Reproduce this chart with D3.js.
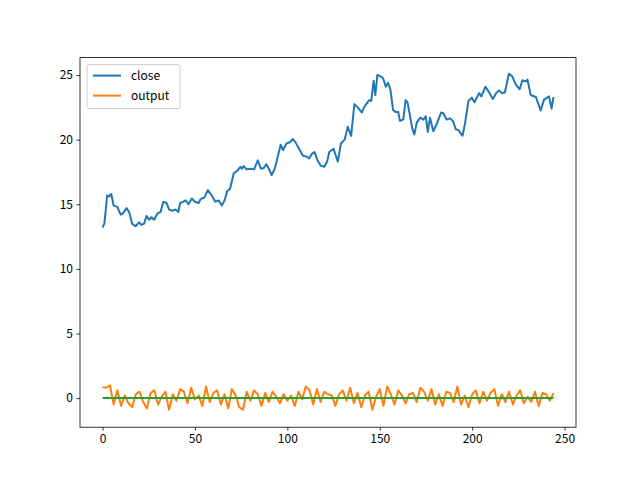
<!DOCTYPE html>
<html>
<head>
<meta charset="utf-8">
<script src="https://cdn.jsdelivr.net/npm/d3@7"></script>
<style>
  body { margin: 0; background: #fff; }
  text { font-family: "Noto Sans CJK SC", "DejaVu Sans", sans-serif; }
</style>
</head>
<body>
<div id="wrapper"></div>
<script>
// close price (index, value)
const closeIdx = [0,1,2.5,3.5,4.7,6,8,9.8,11,13,14.4,16,17.8,19.8,21,22.5,23.8,25.2,26.5,27.9,29.8,31.4,32.9,34.6,36,37.8,39.5,41,42,43.8,45,46.5,48.3,50,52,53,55,57,59,61,62.8,64.6,66,67.4,69,71,73,74.6,75.5,76.4,78,80,82,84,85.7,87.3,88.6,90,91.5,93.3,95,96.4,97.7,99.5,101.3,103,104.6,106.7,108.5,110.3,111.8,113.3,114.7,116.3,118,120,121.5,122.7,125,127.3,129,131,132.7,134.5,136.3,138.1,140.3,141.7,143.2,144.2,145.4,146.7,147.6,148.7,150.5,151.8,153.3,154.5,155.8,157.2,158.5,160,160.9,162.7,164,165,166.3,167.6,168.7,170,171.8,173.6,174.9,176,177.2,179,180.8,183.2,184.4,186.2,188,189.8,191.1,192.5,194.8,196.2,198,199.8,201.3,202.5,203.8,205,207.2,209,211.2,213,214.5,216.3,217.7,219.9,221.7,223.5,225.7,227.2,229,229.9,231.7,234.5,237.1,238.9,241.6,243,244]
const closeVal = [13.2,13.5,15.7,15.6,15.8,14.9,14.8,14.2,14.3,14.7,14.4,13.5,13.3,13.6,13.4,13.5,14.1,13.8,14.0,13.8,14.3,14.4,15.2,15.1,14.6,14.5,14.6,14.4,15.1,15.2,15.3,15.0,15.45,15.2,15.1,15.4,15.5,16.1,15.7,15.2,15.3,14.9,15.3,16.0,16.2,17.4,17.6,17.9,17.75,17.95,17.7,17.75,17.7,18.4,17.75,17.8,18.1,17.75,17.25,17.8,18.8,19.6,19.2,19.7,19.8,20.05,19.75,19.2,18.75,18.7,18.55,18.9,19.05,18.4,18.0,17.9,18.3,19.05,19.3,18.3,19.7,20.0,21.0,20.3,22.75,22.5,22.1,22.55,22.85,23.05,23.0,24.55,23.45,25.0,24.9,24.75,24.1,24.4,23.85,22.3,22.15,22.15,21.45,21.55,23.05,22.9,21.9,20.85,20.4,21.3,21.7,21.55,21.8,20.6,21.7,20.65,21.2,22.1,22.05,21.55,21.65,21.4,20.8,20.75,20.3,21.3,23.0,23.25,22.9,23.25,23.6,23.35,24.1,23.7,23.15,23.6,23.8,23.6,23.65,25.1,24.9,24.3,23.9,24.6,24.5,24.65,23.45,23.3,22.25,23.1,23.35,22.4,23.3]

// model output, every 2nd index
const outputIdx = d3.range(0, 245, 2)
const outputVal = [0.85,0.8,1.0,-0.5,0.6,-0.6,0.2,-0.4,-0.7,0.3,0.5,-0.3,-0.8,0.4,0.6,-0.5,0.1,0.5,-0.9,0.3,-0.2,0.7,0.5,-0.4,0.8,-0.1,0.2,-0.6,0.9,-0.3,0.4,0.6,-0.5,0.3,-0.8,0.7,0.2,-0.7,-0.9,0.5,-0.2,0.6,0.3,-0.6,0.4,-0.3,0.5,0.1,-0.4,0.3,-0.2,0.2,-0.6,0.5,-0.1,0.9,0.6,-0.5,0.7,-0.3,0.5,0.3,0.2,-0.6,0.3,0.6,-0.2,0.8,-0.4,0.4,-0.7,0.2,0.5,-0.9,0.1,0.7,-0.6,0.9,0.3,-0.5,0.6,0.2,-0.4,0.3,0.4,-0.3,0.8,0.5,-0.2,0.7,-0.5,0.3,-0.6,0.5,0.4,-0.3,0.9,-0.5,0.2,-0.7,0.3,0.6,-0.4,0.5,-0.2,0.4,0.7,-0.6,0.3,-0.3,0.5,-0.5,0.2,0.6,-0.4,0.1,-0.3,0.5,-0.6,0.4,0.3,-0.2,0.4]

const xTicks = [0,50,100,150,200,250]
const yTicks = [0,5,10,15,20,25]
const seriesNames = ["close","output"]
const colors = ["#1f77b4","#ff7f0e","#2ca02c"]

const dimensions = {
    width: 640,
    height: 480,
    margin: { top: 57.6, right: 64, bottom: 52.8, left: 80 }
}
dimensions.boundedWidth = dimensions.width - dimensions.margin.left - dimensions.margin.right
dimensions.boundedHeight = dimensions.height - dimensions.margin.top - dimensions.margin.bottom

const svg = d3.select('#wrapper').append('svg')
    .attr('width', dimensions.width)
    .attr('height', dimensions.height)

const bounds = svg.append('g')
    .attr('transform', `translate(${dimensions.margin.left},${dimensions.margin.top})`)

const xScale = d3.scaleLinear().domain([-12.2, 256.2]).range([0, dimensions.boundedWidth])
const yScale = d3.scaleLinear().domain([-2.25, 26.35]).range([dimensions.boundedHeight, 0])

const line = d3.line().x(d => xScale(d[0])).y(d => yScale(d[1]))

const series = [
    d3.zip(closeIdx, closeVal),
    d3.zip(outputIdx, outputVal),
    [[0, 0], [244, 0]]
]

bounds.selectAll('path.series')
    .data(series)
    .join('path')
    .attr('class', 'series')
    .attr('d', line)
    .attr('fill', 'none')
    .attr('stroke', (d, i) => colors[i])
    .attr('stroke-width', 2)
    .attr('stroke-linejoin', 'round')

const xAxis = bounds.append('g')
    .attr('transform', `translate(0,${dimensions.boundedHeight})`)
    .call(d3.axisBottom(xScale).tickValues(xTicks).tickSize(3.5).tickPadding(3.5))
const yAxis = bounds.append('g')
    .call(d3.axisLeft(yScale).tickValues(yTicks).tickSize(3.5).tickPadding(3.5))
for (const ax of [xAxis, yAxis]) {
    ax.select('.domain').remove()
    ax.selectAll('text').attr('font-size', 12).attr('fill', '#000')
        .style('font-family', '"Noto Sans CJK SC", sans-serif')
    ax.selectAll('line').attr('stroke', '#000').attr('stroke-width', 0.8)
}

bounds.append('rect')
    .attr('width', dimensions.boundedWidth)
    .attr('height', dimensions.boundedHeight)
    .attr('fill', 'none')
    .attr('stroke', '#000')
    .attr('stroke-width', 0.8)

// legend
const legend = bounds.append('g').attr('transform', 'translate(7,7)')
legend.append('rect')
    .attr('width', 93).attr('height', 44).attr('rx', 2)
    .attr('fill', '#fff').attr('fill-opacity', 0.8)
    .attr('stroke', '#ccc').attr('stroke-width', 1)
const items = legend.selectAll('g.item').data(seriesNames).join('g')
    .attr('class', 'item')
    .attr('transform', (d, i) => `translate(0,${11 + i * 20})`)
items.append('line')
    .attr('x1', 6).attr('x2', 34)
    .attr('stroke', (d, i) => colors[i]).attr('stroke-width', 2)
items.append('text')
    .attr('x', 44).attr('dy', '0.35em')
    .attr('font-size', 12)
    .text(d => d)
</script>
</body>
</html>
